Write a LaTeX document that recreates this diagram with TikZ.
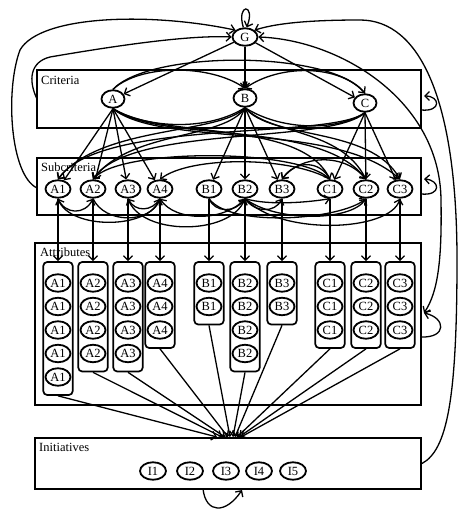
\documentclass[tikz,border=0pt]{standalone}
\usepackage{fontspec}
\setmainfont{Liberation Serif}
\usetikzlibrary{arrows.meta,shapes.geometric,calc}
\begin{document}
\begin{tikzpicture}[x=1pt,y=-1pt,
  >={Straight Barb[length=4.5pt,width=9pt]},
  ln/.style={line width=1.3pt},
  nd/.style={ellipse, draw, line width=1.8pt, minimum width=25pt, minimum height=17.5pt, inner sep=0pt, font=\fontsize{12.5}{13}\selectfont},
  bx/.style={draw, line width=2pt, rectangle, inner sep=0pt},
  grp/.style={draw, line width=1.7pt, rounded corners=4pt, minimum width=29.5pt, inner sep=0pt},
  lbl/.style={anchor=west, inner sep=0pt, font=\fontsize{12.5}{13}\selectfont}
]
\useasboundingbox (0,0) rectangle (474,519);

% layer boxes
\node[bx, minimum width=384pt, minimum height=58pt] (crit) at (229,99) {};
\node[bx, minimum width=384pt, minimum height=57pt] (sub) at (229,186.5) {};
\node[bx, minimum width=386pt, minimum height=162pt] (attr) at (228,324) {};
\node[bx, minimum width=386pt, minimum height=51pt] (init) at (228,463.5) {};
\node[lbl] (lc) at (41,80) {Criteria};
\node[lbl] (ls) at (41,167) {Subcriteria};
\node[lbl] (la) at (40,252) {Attributes};
\node[lbl] (li) at (39,447) {Initiatives};

% goal and criteria
\node[nd] (G) at (245,37) {G};
\node[nd, minimum width=23pt] (A) at (113,99) {A};
\node[nd, minimum width=23pt] (B) at (245,98) {B};
\node[nd, minimum width=23pt] (C) at (365,103) {C};

% subcriteria
\foreach \n/\x in {A1/58,A2/93,A3/128,A4/160,B1/209,B2/245,B3/282,C1/330,C2/366,C3/400}{
  \node[nd] (\n) at (\x,189) {\n};
}

% attributes
\foreach \n/\x/\k in {A1/58/5,A2/93/4,A3/128/4,A4/160/3,B1/209/2,B2/245/4,B3/282/2,C1/330/3,C2/366/3,C3/400/3}{
  \pgfmathsetmacro\hh{20+23.5*(\k-1)+19}
  \pgfmathsetmacro\cy{262+\hh/2}
  \node[grp, minimum height=\hh pt] (g\n) at (\x,\cy) {};
  \foreach \i in {1,...,\k}{
    \node[nd] (\n-\i) at (\x,{283+23.5*(\i-1)}) {\n};
  }
  \draw[ln,->] (\n) -- (g\n);
}

% initiatives
\foreach \n/\x in {I1/153,I2/190,I3/226,I4/259,I5/293}{
  \node[nd, minimum width=26pt, minimum height=17.5pt] (\n) at (\x,471) {\n};
}

% attributes -> initiatives
\foreach \n/\cx in {A1/217,A2/222,A3/225,A4/228,B1/230,B2/233,B3/235,C1/237,C2/239,C3/241}{
  \coordinate (c\n) at (\cx,437);
  \draw[ln,->] (g\n.south) -- (c\n);
}

% G -> criteria
\draw[ln,->] (G) -- (A);
\draw[ln,->] (G) -- (B);
\draw[ln,->] (G) -- (C);
\draw[ln,->] (G.100) .. controls (236,3) and (256,3) .. (G.80);

% criteria interdependence
\draw[ln,->] (A.north) .. controls (140,64) and (210,64) .. (B.north);
\draw[ln,->] (C.north) .. controls (340,64) and (280,64) .. (B.north);
\draw[ln,->] (A.north) .. controls (150,50) and (330,50) .. (C.north);
\draw[ln] (A.south) .. controls (150,130) and (210,130) .. (B.south);
\draw[ln] (B.south) .. controls (280,130) and (335,132) .. (C.south);

% criteria -> subcriteria
\foreach \s in {A1,A2,A3,A4}{\draw[ln,->] (A.south) -- (\s);}
\foreach \s in {B1,B2,B3}{\draw[ln,->] (B.south) -- (\s);}
\foreach \s in {C1,C2,C3}{\draw[ln,->] (C.south) -- (\s);}
\draw[ln,->] (A.south) .. controls (160,140) and (300,118) .. (C1.north);
\draw[ln,->] (A.south) .. controls (160,144) and (320,118) .. (C2.north);
\draw[ln,->] (A.south) .. controls (160,148) and (335,120) .. (C3.north);
\draw[ln,->] (B.south) .. controls (220,135) and (100,125) .. (A1.north);
\draw[ln,->] (B.south) .. controls (225,140) and (130,130) .. (A2.north);
\draw[ln,->] (B.south) .. controls (270,135) and (340,128) .. (C2.north);
\draw[ln,->] (B.south) .. controls (270,140) and (370,126) .. (C3.north);
\draw[ln,->] (C.south) .. controls (330,140) and (100,118) .. (A1.north);
\draw[ln,->] (C.south) .. controls (330,145) and (130,124) .. (A2.north);

% subcriteria interdependence (top)
\draw[ln,->] (C1.north) .. controls (300,148) and (120,148) .. (A2.north);
\draw[ln,->] (C1.north) .. controls (290,156) and (190,156) .. (A4.north);
\draw[ln,->] (C1.north) .. controls (320,160) and (295,160) .. (B3.north);
\draw[ln,->] (C2.north) .. controls (345,152) and (300,155) .. (B3.north);

% subcriteria interdependence (bottom)
\draw[ln,->] (A1.south) .. controls (65,215) and (85,215) .. (A2.south);
\draw[ln,->] (A4.south) .. controls (150,230) and (70,230) .. (A1.south);
\draw[ln,->] (A2.south) .. controls (105,224) and (150,224) .. (A4.south);
\draw[ln,->] (A4.south) .. controls (152,212) and (135,212) .. (A3.south);
\draw[ln,->] (A3.south) .. controls (140,236) and (230,236) .. (B2.south);
\draw[ln,->] (B2.south) .. controls (225,222) and (175,222) .. (A4.south);
\draw[ln,->] (B1.south) .. controls (215,213) and (235,213) .. (B2.south);
\draw[ln,->] (B2.south) .. controls (255,213) and (275,213) .. (B3.south);
\draw[ln,->] (B2.south) .. controls (270,206) and (310,202) .. (C1.south);
\draw[ln,->] (B2.south) .. controls (275,222) and (350,222) .. (C2.south);
\draw[ln,->] (B2.south) .. controls (280,236) and (390,232) .. (C3.south);
\draw[ln,->] (B1.south) .. controls (230,228) and (340,220) .. (C2.south);

% self loops of the layers
\coordinate (critOut) at (421,110);
\coordinate (critIn) at (424,96);
\coordinate (subOut) at (421,194);
\coordinate (subIn) at (424,179);
\coordinate (attrOut) at (421,337);
\coordinate (attrIn) at (424,313);
\coordinate (initOut) at (203,489);
\coordinate (initIn) at (242,490);
\draw[ln,->] (critOut) .. controls (442,112) and (440,96) .. (critIn);
\draw[ln,->] (subOut) .. controls (442,196) and (440,180) .. (subIn);
\draw[ln,->] (attrOut) .. controls (447,338) and (446,318) .. (attrIn);
\draw[ln,->] (initOut) .. controls (206,514) and (226,514) .. (initIn);

% feedback to goal
\coordinate (critW) at (37,99);
\coordinate (subW) at (37,188);
\draw[ln,->] (critW) .. controls (28,80) and (30,62) .. (50,57) .. controls (120,45) and (190,35) .. (G.west);
\draw[ln,->] (subW) .. controls (10,175) and (5,90) .. (20,50) .. controls (40,15) and (150,12) .. (G.north west);
\draw[ln,<->] (G.east) .. controls (340,40) and (440,100) .. (441,200) .. controls (442,260) and (438,292) .. (attrIn);
\draw[ln,->] (init.east) .. controls (447,450) and (457,400) .. (457,260) .. controls (457,100) and (420,20) .. (360,20) .. controls (320,20) and (280,22) .. (G.north east);
\end{tikzpicture}
\end{document}
